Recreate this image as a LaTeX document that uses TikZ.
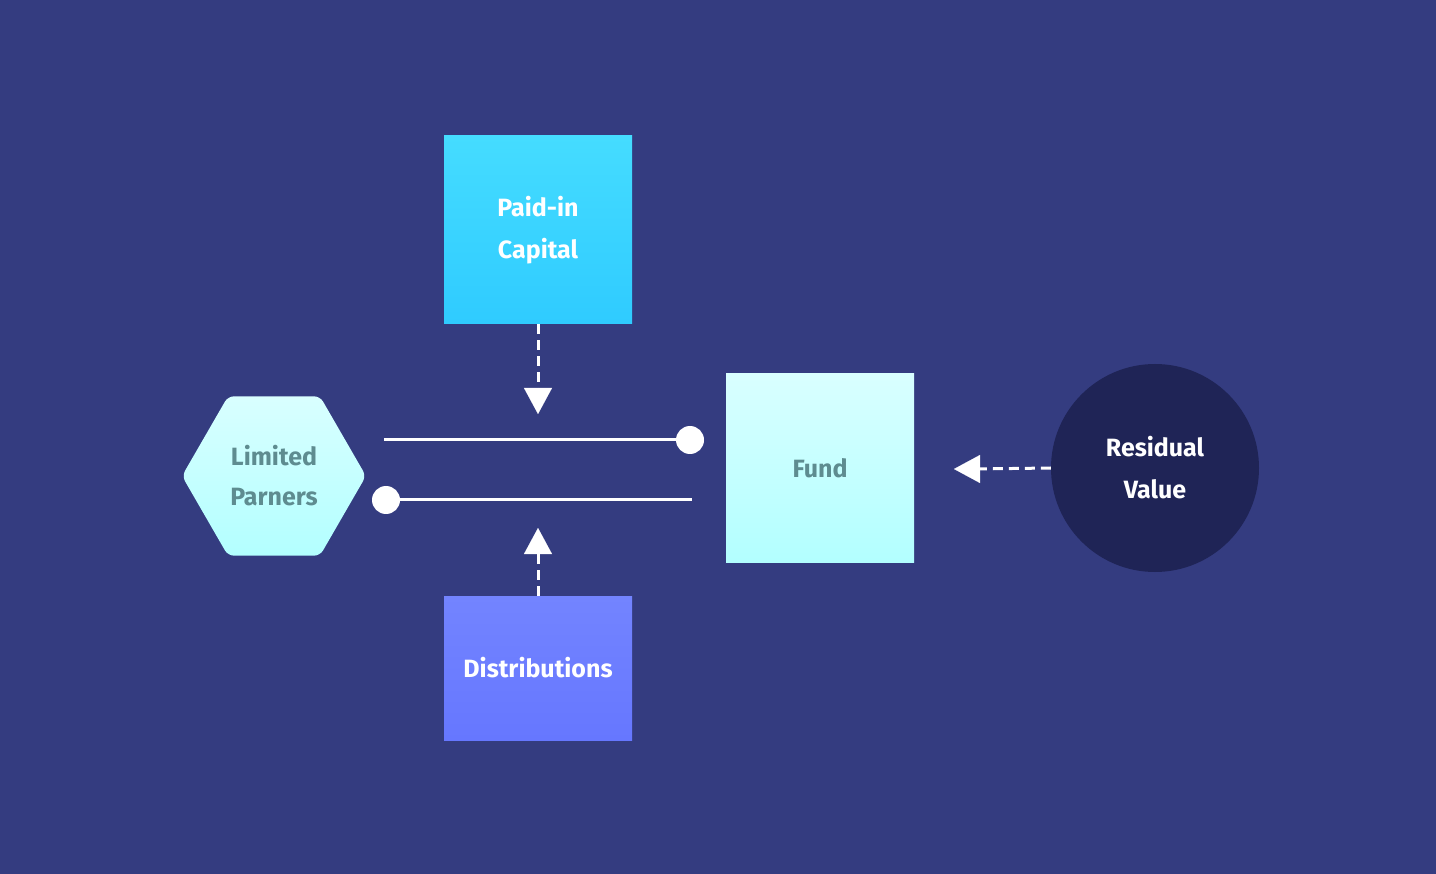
\documentclass[tikz,border=0pt]{standalone}
\usepackage{fontspec}
\setmainfont{Fira Sans}
\usetikzlibrary{arrows.meta,shapes.geometric,calc}
\definecolor{bg}{HTML}{343C80}
\definecolor{lbl}{HTML}{5E8C90}
\begin{document}
\begin{tikzpicture}[x=1pt,y=-1pt,
  box/.style={minimum width=188pt,minimum height=188pt,inner sep=0pt,align=center,font=\fontsize{25}{42}\selectfont\bfseries},
  lite/.style={top color=cyan!15!white,bottom color=cyan!30!white,text=lbl},
  dashline/.style={white,line width=3pt,dash pattern=on 10pt off 6pt},
  tip/.style={-{Triangle[length=26pt,width=28pt]}},
  flow/.style={white,line width=3pt}]
\fill[bg] (0,0) rectangle (1436,874);
\useasboundingbox (0,0) rectangle (1436,874);
\node[box,top color={rgb,255:red,69;green,220;blue,255},bottom color={rgb,255:red,47;green,203;blue,255},text=white] (pic) at (538,230) {Paid-in\\Capital};
\node[box,minimum height=144pt,top color={rgb,255:red,115;green,132;blue,255},bottom color={rgb,255:red,102;green,119;blue,255},text=white] (dist) at (538,668) {Distributions};
\node[box,lite] (fund) at (820,468) {Fund};
\node[regular polygon,regular polygon sides=6,minimum size=184pt,inner sep=0pt,lite,align=center,font=\fontsize{25}{40}\selectfont\bfseries,rounded corners=6pt] (lp) at (274,476) {Limited\\Parners};
\node[circle,minimum size=208pt,fill={rgb,255:red,31;green,36;blue,86},text=white,align=center,font=\fontsize{25}{42}\selectfont\bfseries] (rv) at (1155,468) {Residual\\Value};
\coordinate (a1) at (538,414);
\coordinate (a2) at (538,528);
\coordinate (a3) at (954,469);
\coordinate (l1s) at (384,440);\coordinate (l1e) at (690,440);
\coordinate (l2s) at (386,500);\coordinate (l2e) at (692,500);
\draw[dashline] (pic.south) -- ($(a1)+(0,-20)$);
\draw[white,tip,line width=0.1pt] ($(a1)+(0,-26)$) -- (a1);
\draw[dashline] (dist.north) -- ($(a2)+(0,20)$);
\draw[white,tip,line width=0.1pt] ($(a2)+(0,26)$) -- (a2);
\draw[dashline] (rv.west) -- ($(a3)+(20,0)$);
\draw[white,tip,line width=0.1pt] ($(a3)+(26,0)$) -- (a3);
\draw[flow] (l1s) -- (l1e);
\fill[white] (l1e) circle (14pt);
\draw[flow] (l2s) -- (l2e);
\fill[white] (l2s) circle (14pt);
\end{tikzpicture}
\end{document}
